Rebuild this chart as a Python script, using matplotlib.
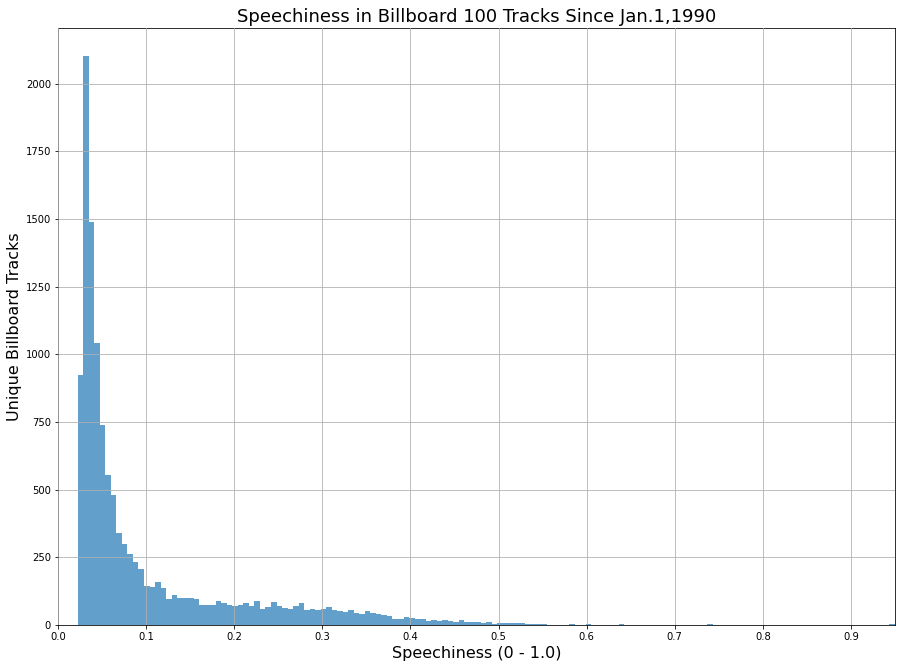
import numpy as np
import matplotlib.pyplot as plt

# histogram of speechiness, counts (150 bins)
bin_start = 0.0224
bin_end = 0.95
counts = [
    925, 2100, 1490, 1040, 740, 555, 480, 340, 300, 262, 232, 207,
    145, 140, 160, 138, 95, 110, 100, 100, 100, 95, 75, 75, 75, 88,
    82, 75, 72, 75, 80, 70, 88, 60, 65, 85, 70, 62, 60, 72, 80, 55,
    58, 55, 58, 68, 55, 52, 48, 55, 45, 42, 50, 45, 42, 38, 35, 22,
    22, 30, 25, 22, 22, 15, 20, 15, 20, 15, 12, 20, 10, 12, 10, 8,
    10, 5, 6, 6, 6, 6, 6, 4, 4, 4, 2, 0, 0, 0, 0, 3, 0, 0, 3, 0,
    0, 0, 0, 0, 3, 0, 0, 0, 0, 0, 0, 0, 0, 0, 0, 0, 0, 0, 0, 0,
    3, 0, 0, 0, 0, 0, 0, 0, 0, 0, 0, 0, 0, 0, 0, 0, 0, 0, 0, 0,
    0, 0, 0, 0, 0, 0, 0, 0, 0, 0, 0, 0, 0, 4,
]

edges = np.linspace(bin_start, bin_end, len(counts) + 1)
centers = (edges[:-1] + edges[1:]) / 2

fig, ax = plt.subplots(figsize=(902 / 72, 668 / 72), dpi=72)
fig.subplots_adjust(left=58 / 902, right=895 / 902, top=1 - 28 / 668, bottom=1 - 625 / 668)

ax.hist(centers, bins=edges, weights=counts, color="#1f77b4", alpha=0.7)
ax.set_xlim(0, 0.95)
ax.set_xticks(np.arange(0, 0.95, 0.1))
ax.set_xticklabels(["0.0", "0.1", "0.2", "0.3", "0.4", "0.5", "0.6", "0.7", "0.8", "0.9"])
ax.set_yticks(np.arange(0, 2001, 250))
ax.grid(True, color="#b0b0b0")
ax.set_axisbelow(False)
ax.tick_params(labelsize=10)

ax.set_title("Speechiness in Billboard 100 Tracks Since Jan.1,1990", fontsize=18)
ax.set_xlabel("Speechiness (0 - 1.0)", fontsize=16)
ax.set_ylabel("Unique Billboard Tracks", fontsize=16)

plt.savefig("out.png", dpi=72)
